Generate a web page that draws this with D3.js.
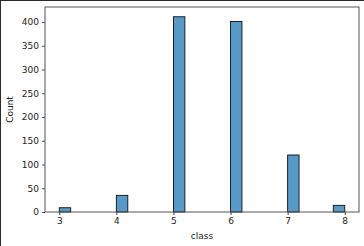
<!DOCTYPE html>
<html>
<head>
<meta charset="utf-8">
<script src="https://cdn.jsdelivr.net/npm/d3@7"></script>
<style>
  html, body { margin: 0; padding: 0; background: #fff; }
  #chart { width: 364px; height: 246px; position: relative; box-sizing: border-box; border-left: 1px solid #2b2b2b; border-top: 1px solid #2b2b2b; }
  svg text { font-family: "DejaVu Sans", sans-serif; fill: #222; }
</style>
</head>
<body>
<div id="chart"></div>
<script>
// values
var classes = [3, 4, 5, 6, 7, 8];
var counts = [9, 35, 411, 401, 120, 14];
var xTicks = [3, 4, 5, 6, 7, 8];
var yTicks = [0, 50, 100, 150, 200, 250, 300, 350, 400];

var binCount = 25; // histogram bins between min and max class

var el = document.getElementById("chart");
// axes box inside the 364x246 frame (frame border takes 1px)
var margin = {top: 6, right: 5, bottom: 34, left: 44};
var width = 363 - margin.left - margin.right,
	height = 245 - margin.top - margin.bottom;

var lo = d3.min(classes), hi = d3.max(classes);
var binW = (hi - lo) / binCount;

// build bins: each class lands in one bin, the max falls in the last one
var bars = classes.map(function(c, i){
	var idx = Math.min(Math.floor((c - lo) / binW + 1e-9), binCount - 1);
	return {x0: lo + idx * binW, x1: lo + (idx + 1) * binW, count: counts[i]};
});

// matplotlib style 5% margins on x, y starts at 0
var pad = (hi - lo) * 0.05;
var x = d3.scaleLinear().domain([lo - pad, hi + pad]).range([0, width]);
var y = d3.scaleLinear().domain([0, d3.max(counts) * 1.05]).range([height, 0]);

var svg = d3.select(el).append("svg")
		.attr("width", 363)
		.attr("height", 245)
		.style("display", "block");

var g = svg.append("g")
		.attr("transform", "translate(" + margin.left + "," + margin.top + ")");

// bars
g.selectAll(".bar")
	.data(bars)
	.enter().append("rect")
		.attr("class", "bar")
		.attr("x", function(d){ return x(d.x0); })
		.attr("y", function(d){ return y(d.count); })
		.attr("width", function(d){ return x(d.x1) - x(d.x0); })
		.attr("height", function(d){ return y(0) - y(d.count); })
		.attr("fill", "#1f77b4")
		.attr("fill-opacity", 0.75)
		.attr("stroke", "#111")
		.attr("stroke-width", 0.9);

// axes
var xAxis = d3.axisBottom(x).tickValues(xTicks).tickFormat(d3.format("d"))
		.tickSizeInner(3).tickSizeOuter(0).tickPadding(3);
var yAxis = d3.axisLeft(y).tickValues(yTicks).tickFormat(d3.format("d"))
		.tickSizeInner(3).tickSizeOuter(0).tickPadding(3);

var gx = g.append("g")
		.attr("transform", "translate(0," + height + ")")
		.call(xAxis);
var gy = g.append("g").call(yAxis);

[gx, gy].forEach(function(a){
	a.select(".domain").remove();
	a.selectAll("line").attr("stroke", "#333").attr("stroke-width", 0.9);
	a.selectAll("text").style("font-size", "9px").attr("fill", "#222");
});

// spines
g.append("rect")
	.attr("x", 0).attr("y", 0)
	.attr("width", width).attr("height", height)
	.attr("fill", "none")
	.attr("stroke", "#555")
	.attr("stroke-width", 1);

// labels
g.append("text")
	.attr("x", width / 2)
	.attr("y", height + 27)
	.attr("text-anchor", "middle")
	.style("font-size", "9px")
	.text("class");

g.append("text")
	.attr("transform", "translate(" + (-32) + "," + (height / 2) + ") rotate(-90)")
	.attr("text-anchor", "middle")
	.style("font-size", "9px")
	.text("Count");
</script>
</body>
</html>
